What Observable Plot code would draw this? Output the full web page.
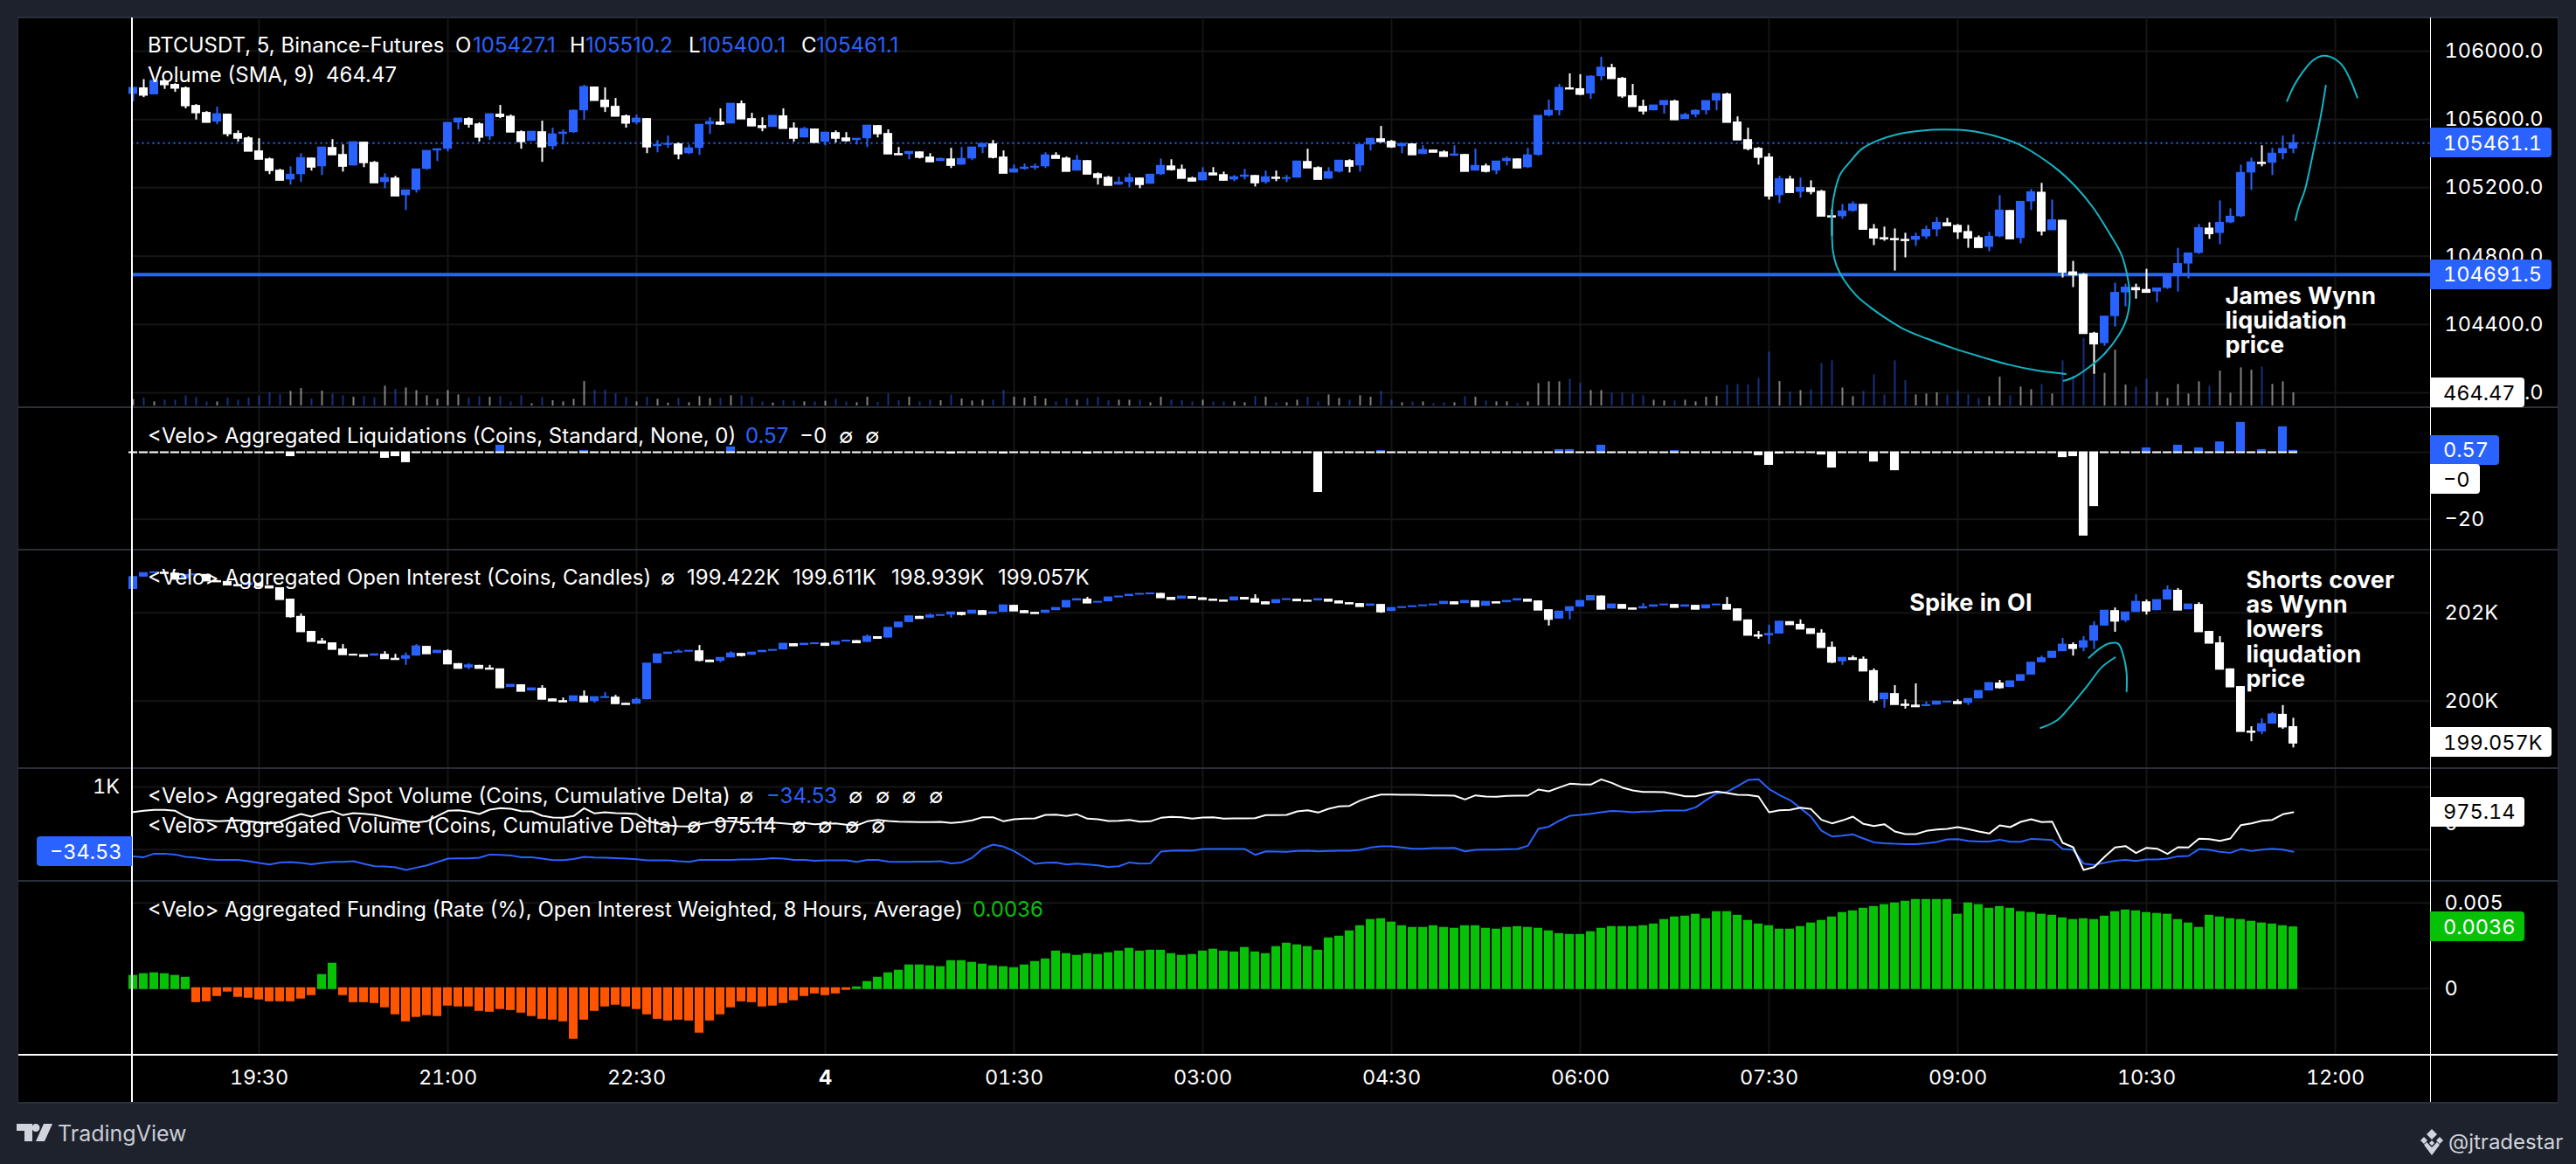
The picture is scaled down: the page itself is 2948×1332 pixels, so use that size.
<!DOCTYPE html>
<html><head><meta charset="utf-8"><title>BTCUSDT</title>
<script src="https://cdn.jsdelivr.net/npm/d3@7"></script>
<script src="https://cdn.jsdelivr.net/npm/@observablehq/plot@0.6"></script>
<style>
html,body{margin:0;padding:0;background:#1e222d}
#stage{position:relative;width:2948px;height:1332px;overflow:hidden;background:#1e222d;font-family:Inter,sans-serif;color:#fff}
#stage svg{position:absolute;left:0;font-feature-settings:"tnum" 1}
.abs{position:absolute;white-space:pre;line-height:1}
.tag{position:absolute;display:flex;align-items:center;padding-left:15px;box-sizing:border-box;height:34px;font-size:23.5px;font-feature-settings:"tnum" 1}
</style></head><body><div id="stage"></div>
<script>
// ---------- candle time axis ----------
const timeTicks=[12,30,48,84,102,120,138,156,174,192,210];
const timeLabels=["19:30","21:00","22:30","01:30","03:00","04:30","06:00","07:30","09:00","10:30","12:00"];
const dayTick=[66], dayLabel=["4"];
const gridTicks=[12,30,48,66,84,102,120,138,156,174,192,210];

// ---------- price candles (BTCUSDT, 5m) ----------
const firstOpen=105747;
const closes=[105785,105744,105826,105805,105785,105682,105641,105585,105631,105518,105492,105416,105369,105303,105246,105277,105374,105323,105436,105395,105328,105467,105349,105231,105257,105154,105185,105308,105416,105426,105580,105605,105574,105498,105631,105619,105528,105472,105528,105441,105513,105523,105651,105790,105713,105677,105621,105580,105605,105441,105451,105457,105400,105431,105569,105585,105574,105692,105605,105564,105554,105621,105549,105492,105544,105467,105523,105492,105477,105487,105564,105518,105400,105395,105410,105380,105354,105369,105333,105369,105436,105457,105380,105287,105308,105318,105323,105390,105374,105298,105359,105282,105262,105216,105231,105257,105221,105277,105328,105308,105257,105241,105287,105277,105246,105262,105272,105231,105262,105257,105257,105354,105318,105251,105292,105359,105328,105451,105487,105472,105441,105457,105395,105421,105410,105385,105395,105298,105328,105298,105354,105369,105318,105390,105621,105651,105785,105780,105749,105851,105903,105841,105739,105677,105651,105682,105708,105600,105626,105651,105708,105749,105585,105482,105431,105380,105154,105251,105174,105200,105180,105036,105031,105062,105103,104959,104908,104903,104898,104893,104913,104954,104995,104980,104944,104908,104852,104913,105067,104903,105118,105174,104949,105010,104708,104693,104349,104288,104446,104585,104616,104605,104590,104611,104682,104754,104816,104964,104933,104995,105031,105287,105349,105344,105400,105427.1,105461.1];
const highs=[105785,105833,105826,105826,105809,105790,105687,105646,105672,105631,105533,105498,105487,105374,105308,105323,105400,105374,105436,105482,105451,105467,105467,105354,105282,105267,105185,105308,105416,105426,105580,105605,105610,105580,105631,105682,105626,105533,105528,105590,105549,105539,105656,105800,105790,105785,105723,105626,105626,105605,105477,105503,105462,105451,105569,105610,105662,105692,105708,105636,105610,105621,105662,105580,105554,105544,105523,105533,105523,105487,105564,105564,105539,105436,105410,105410,105400,105374,105431,105436,105436,105457,105477,105416,105333,105339,105339,105405,105405,105380,105390,105359,105287,105267,105262,105282,105257,105277,105369,105364,105333,105262,105318,105318,105292,105272,105308,105272,105298,105298,105272,105354,105426,105323,105318,105359,105364,105451,105487,105559,105477,105457,105457,105446,105421,105416,105446,105395,105426,105339,105354,105380,105369,105431,105621,105713,105805,105867,105862,105856,105964,105923,105846,105805,105713,105682,105708,105713,105636,105656,105708,105749,105754,105615,105549,105436,105400,105267,105267,105257,105241,105185,105072,105103,105118,105103,104985,104970,104959,104934,104934,104975,105026,105021,104985,104980,104918,104939,105154,105067,105118,105190,105226,105128,105010,104769,104698,104354,104446,104641,104636,104636,104723,104611,104682,104846,104816,104985,104995,105123,105077,105333,105374,105446,105431,105503,105510.2];
const lows=[105703,105728,105744,105776,105759,105662,105597,105585,105569,105498,105467,105416,105369,105277,105246,105216,105231,105298,105272,105395,105292,105328,105318,105231,105195,105154,105067,105169,105303,105354,105410,105539,105549,105467,105477,105605,105528,105426,105472,105349,105421,105451,105518,105595,105708,105641,105615,105549,105569,105400,105405,105431,105364,105395,105390,105513,105564,105574,105605,105559,105528,105554,105549,105467,105492,105467,105446,105462,105467,105451,105436,105492,105400,105395,105364,105369,105349,105354,105313,105333,105359,105400,105369,105287,105287,105303,105303,105313,105374,105298,105298,105277,105216,105210,105216,105200,105195,105221,105272,105298,105257,105236,105241,105277,105241,105236,105246,105205,105221,105236,105231,105257,105318,105251,105251,105287,105287,105292,105416,105462,105431,105400,105395,105395,105405,105385,105385,105298,105298,105287,105277,105328,105318,105313,105385,105615,105621,105774,105739,105718,105826,105841,105723,105677,105626,105651,105631,105600,105600,105610,105626,105651,105580,105477,105416,105333,105128,105108,105174,105139,105159,105036,104918,105016,105057,104959,104862,104887,104713,104790,104857,104898,104913,104980,104898,104846,104852,104826,104908,104903,104872,105067,104918,104949,104672,104616,104349,104108,104272,104385,104503,104549,104590,104528,104605,104590,104667,104810,104898,104867,104990,105026,105185,105323,105272,105364,105400.1];
const volumes=[227,279,144,206,206,361,299,144,144,279,206,279,351,464,402,516,619,248,526,423,361,310,341,289,702,588,640,547,361,237,547,392,279,330,310,330,144,361,83,299,186,144,237,867,557,557,433,310,144,310,237,103,268,114,330,268,268,361,361,310,144,103,186,175,144,144,165,237,144,114,310,124,433,186,310,144,206,186,392,248,175,206,206,557,310,279,341,248,144,268,206,268,310,186,206,206,206,114,310,206,186,144,206,144,144,144,114,341,310,114,114,206,310,144,392,268,206,361,310,516,206,114,144,144,83,114,114,330,310,175,144,144,83,144,795,857,857,949,805,547,547,454,454,423,361,206,175,175,206,144,310,341,733,764,743,980,1909,867,495,547,578,1507,1600,640,330,516,1104,392,1600,898,392,423,464,392,516,392,268,330,1022,361,671,578,764,423,1600,1053,2394,1104,1156,1981,743,671,949,485,268,764,423,857,702,1238,454,1352,1269,1383,764,857,464.47];
const priceTicks=[106000,105600,105200,104800,104400,104000];
const lastPrice=105461.1, liquidationPrice=104691.5;

// ---------- aggregated liquidations (non-zero bars only) ----------
const liqIndex=[13,15,24,25,26,35,43,57,78,83,91,113,119,136,137,140,147,155,156,157,161,162,166,168,184,185,186,187,192,195,197,199,201,203,205,206];
const liqValue=[-0.5,-1.3,-1.8,-1.3,-3.1,2.1,0.5,1.6,-0.5,-0.5,-0.5,-12,0.5,0.8,0.8,2.1,0.5,-1,-3.9,-0.5,-0.8,-4.7,-2.9,-5.5,-1.6,-1.3,-25,-16.2,1.3,2.1,1.3,3.1,8.9,0.8,7.6,0.57];

// ---------- aggregated open interest candles (thousand coins) ----------
const oiFirstOpen=202.53;
const oiCloses=[202.81,202.90,202.92,202.90,202.77,202.86,202.87,202.73,202.71,202.64,202.62,202.67,202.61,202.57,202.31,201.92,201.58,201.36,201.32,201.18,201.06,201.05,201.02,201.06,200.97,200.95,201.02,201.24,201.08,201.14,200.85,200.75,200.81,200.75,200.73,200.31,200.37,200.23,200.29,200.05,200.01,199.99,200.11,199.99,200.09,200.09,199.95,199.93,200.03,200.85,201.06,201.10,201.12,201.14,200.93,200.90,200.98,201.08,201.04,201.10,201.14,201.16,201.30,201.26,201.30,201.31,201.27,201.34,201.37,201.33,201.46,201.43,201.66,201.78,201.92,201.88,201.94,201.95,202.01,201.97,202.05,201.97,202.01,202.17,202.05,202.01,201.99,202.05,202.11,202.27,202.31,202.23,202.25,202.35,202.37,202.41,202.43,202.44,202.35,202.31,202.37,202.34,202.31,202.29,202.27,202.35,202.32,202.25,202.21,202.29,202.31,202.28,202.27,202.31,202.27,202.23,202.21,202.15,202.19,202.03,202.11,202.13,202.15,202.17,202.19,202.25,202.21,202.27,202.15,202.25,202.23,202.27,202.31,202.27,202.07,201.86,202.03,202.13,202.27,202.38,202.09,202.19,202.11,202.09,202.13,202.17,202.19,202.13,202.17,202.09,202.17,202.19,202.09,201.84,201.50,201.48,201.52,201.80,201.74,201.64,201.54,201.22,200.89,200.98,200.95,200.69,200.03,200.17,199.93,199.91,199.88,199.91,199.99,199.99,199.95,200.05,200.23,200.41,200.31,200.45,200.59,200.87,200.97,201.12,201.28,201.20,201.36,201.70,202.05,201.82,202.01,202.25,202.05,202.29,202.51,202.07,202.19,201.58,201.32,200.73,200.33,199.32,199.30,199.48,199.70,199.422,199.057];
const oiUpperWicks=[[16,201.97],[18,201.42],[20,201.28],[24,201.12],[25,201.06],[26,201.09],[27,201.28],[30,201.16],[32,200.85],[34,200.81],[39,200.35],[41,200.07],[43,200.23],[45,200.19],[46,200.13],[48,200.07],[52,201.16],[54,201.26],[57,201.12],[70,201.50],[76,201.97],[91,202.35],[107,202.41],[144,202.21],[152,202.35],[155,201.58],[156,201.72],[159,201.84],[161,201.62],[162,201.34],[164,201.02],[165,201.00],[166,200.73],[168,200.35],[169,200.03],[170,200.39],[171,199.98],[174,200.03],[178,200.47],[182,201.02],[184,201.42],[185,201.32],[186,201.46],[187,201.80],[189,202.11],[191,202.41],[192,202.29],[194,202.61],[195,202.55],[197,202.23],[199,201.46],[202,199.42],[203,199.60],[204,199.74],[205,199.90],[206,199.611]];
const oiLowerWicks=[[15,201.88],[26,200.81],[32,200.71],[35,200.29],[44,199.95],[46,199.93],[54,200.89],[56,200.87],[58,201.00],[66,201.24],[78,201.88],[79,201.93],[87,201.99],[119,201.99],[135,201.70],[137,201.84],[153,201.82],[155,201.40],[156,201.28],[162,200.85],[163,200.81],[166,199.95],[167,199.84],[169,199.82],[175,199.90],[178,200.27],[185,201.02],[186,201.12],[187,201.17],[189,201.56],[190,201.78],[192,201.95],[202,199.08],[203,199.24],[205,199.36],[206,198.939]];

// ---------- cumulative deltas ----------
const spotCvd=[-107,-121,-65,-65,-79,-116,-130,-153,-163,-163,-163,-186,-214,-237,-205,-200,-214,-233,-214,-195,-195,-186,-228,-265,-270,-284,-326,-288,-251,-200,-144,-140,-140,-130,-79,-84,-93,-121,-121,-144,-167,-167,-149,-116,-126,-130,-135,-144,-153,-172,-172,-172,-186,-195,-163,-163,-163,-163,-158,-158,-149,-135,-144,-163,-163,-177,-172,-172,-172,-195,-163,-163,-191,-195,-195,-191,-191,-186,-219,-205,-130,14,79,47,-23,-126,-228,-209,-205,-237,-223,-237,-251,-279,-265,-205,-223,-219,-33,-19,-14,-19,9,9,9,9,9,-84,-28,-33,-37,-23,-19,-28,-23,-19,-19,-5,33,51,51,33,14,14,23,23,28,-28,-5,0,0,5,9,60,330,367,460,539,553,572,595,618,609,595,605,609,623,623,623,674,790,897,921,1014,1111,1121,967,870,790,660,525,302,209,223,242,177,116,102,93,88,88,102,121,163,167,140,130,130,158,126,126,172,163,153,9,-5,-223,-246,-209,-177,-163,-181,-158,-158,-144,-107,-102,9,-5,-37,-51,9,-23,0,14,0,-34.53];
const futuresCvd=[1000,1103,1180,1180,1103,590,333,257,180,231,257,180,77,-26,128,513,821,590,898,1077,718,898,846,744,564,385,205,77,180,641,1103,1154,1026,821,1206,1334,1283,1077,1052,667,513,487,641,1334,872,975,898,872,821,205,0,-180,-257,-282,-77,77,180,180,77,51,51,77,0,-77,26,-77,-26,0,-128,-180,180,308,205,154,128,103,103,128,26,103,257,539,539,180,359,410,436,744,770,641,795,410,359,205,231,308,154,180,487,564,539,410,513,539,410,436,436,462,718,718,744,1052,1154,949,1283,1488,1539,2001,2309,2539,2539,2514,2514,2488,2462,2462,2437,2103,2462,2360,2334,2411,2437,2437,2975,2822,3155,3488,3437,3411,3873,3565,3155,2898,2770,2770,2745,2565,2385,2385,2616,2796,2668,2514,2488,2360,975,1154,1180,1385,1257,308,0,257,590,-51,-231,-77,-718,-949,-949,-667,-539,-487,-333,-513,-718,-898,-180,-333,128,359,103,154,-1719,-2103,-4104,-3848,-2950,-2129,-2001,-2616,-2155,-2232,-2693,-2103,-2129,-1359,-1385,-1539,-1334,-154,0,231,308,795,975.14];

// ---------- aggregated funding ----------
const funding=[.00077,.00087,.00092,.00087,.00077,.00066,-.00082,-.00077,-.00046,-.0002,-.00051,-.00056,-.00066,-.00077,-.00077,-.00077,-.00061,-.00041,.00082,.00148,-.00041,-.00082,-.00082,-.00087,-.00112,-.00153,-.00194,-.00168,-.00158,-.00163,-.00102,-.00107,-.00107,-.00133,-.00138,-.00122,-.00128,-.00143,-.00163,-.00179,-.00184,-.00194,-.00296,-.00184,-.00133,-.00107,-.00097,-.00107,-.00122,-.00153,-.00179,-.00189,-.00184,-.00189,-.0026,-.00189,-.00153,-.00112,-.00077,-.00082,-.00107,-.00102,-.00087,-.00071,-.00046,-.00031,-.00041,-.00031,-.0001,.0001,.00041,.00066,.00092,.00107,.00138,.00138,.00133,.00128,.00163,.00163,.00153,.00143,.00133,.00128,.00122,.00138,.00158,.00173,.00219,.00204,.00194,.00204,.00199,.00209,.00219,.00235,.00219,.00224,.00224,.00204,.00194,.00199,.00219,.0023,.00219,.00214,.0024,.00214,.00204,.00245,.00265,.00255,.00245,.00224,.00296,.00306,.00337,.00367,.00403,.00408,.00388,.00367,.00357,.00357,.00367,.00357,.00352,.00367,.00367,.00352,.00347,.00357,.00362,.00357,.00352,.00337,.00321,.00316,.00316,.00332,.00352,.00362,.00362,.00362,.00367,.00377,.00403,.00418,.00423,.00434,.00408,.00449,.00449,.00428,.00398,.00377,.00367,.00347,.00347,.00362,.00383,.00398,.00418,.00444,.00454,.00469,.00479,.0049,.005,.0051,.0052,.0052,.0052,.0052,.00434,.005,.0049,.00469,.00479,.00469,.00449,.00444,.00434,.00428,.00413,.00403,.00408,.00403,.00423,.00449,.00459,.00454,.00444,.00439,.00434,.00403,.00383,.00357,.00428,.00418,.00408,.00403,.00393,.00383,.00377,.00367,.0036];

// ---------- hand-drawn annotations (candle number, value) ----------
const ovalI=[184.3,181.6,178.9,176.3,173.6,171,168.8,167.2,165.6,164.3,163.2,162.4,162.1,162,162,162.3,162.8,163.8,164.8,166.4,168.3,170.4,172.6,175.2,177.3,179.5,181.6,183.7,185.3,186.9,188.5,189.6,190.2,190.4,190.1,189.3,188,186.4,185.1,184.1];
const ovalP=[104110,104130,104164,104209,104260,104318,104374,104434,104503,104571,104656,104750,104827,104930,105067,105186,105280,105357,105425,105477,105514,105533,105540,105533,105507,105463,105391,105297,105203,105084,104930,104810,104674,104554,104434,104332,104229,104144,104092,104070];
const arcI=[205.4,206.1,206.9,207.9,208.7,209.5,210.6,211.4,212.1];
const arcP=[105707,105801,105878,105947,105972,105967,105921,105836,105728];
const stemI=[209.1,208.6,207.9,207.1,206.5,206.2];
const stemP=[105798,105614,105408,105186,105084,105010];
const oiRiseI=[181.9,183.5,184.8,186.4,187.7,189];
const oiRiseV=[199.39,199.57,199.9,200.36,200.76,200.99];
const oiHookI=[186.5,187.6,188.5,189.3,189.8,190.1,190.1];
const oiHookV=[200.98,201.2,201.31,201.3,201.02,200.63,200.22];

// ---------- styling ----------
const BLUE="#2962ff", GREEN="#07c107", ORANGE="#ff5500", TEAL="#14b4c4", GRID="#151515", SEP="#2a2e39";
const FONT="Inter, sans-serif", FS=24, AXFS=23.5, BW=0.42;
const stage=document.getElementById("stage");
const zip=(a,b)=>a.map((v,i)=>({i:v,v:b[i]}));

const xBase={domain:[-0.125,219.083],axis:null};
function pane(top,height,yDomain,marks,extra={}){
  const p=Plot.plot({width:2948,height,marginLeft:150.5,marginRight:167,marginTop:0,marginBottom:0,
    x:xBase,y:{domain:yDomain,axis:null},
    style:{background:"transparent",color:"#fff",fontFamily:FONT,fontSize:AXFS+"px",overflow:"visible"},marks,...extra});
  p.style.top=top+"px";
  stage.appendChild(p);
  return p;
}
const grids=(yt)=>[
  Plot.gridX(gridTicks,{stroke:GRID,strokeOpacity:1,strokeWidth:2}),
  ...(yt?[Plot.gridY(yt,{stroke:GRID,strokeOpacity:1,strokeWidth:2})]:[])
];
const rightAxis=(ticks,tickFormat)=>Plot.axisY(ticks,{anchor:"right",tickSize:0,tickPadding:16,tickFormat,textAnchor:"start",label:null});
function candleMarks(rows){
  const col=d=>d.c>=d.o?BLUE:"#fff";
  return [
    Plot.ruleX(rows,{x:"i",y1:"l",y2:"h",stroke:col,strokeWidth:2}),
    Plot.rect(rows,{x1:d=>d.i-BW,x2:d=>d.i+BW,y1:"o",y2:"c",fill:col}),
    Plot.ruleY(rows,{x1:d=>d.i-BW,x2:d=>d.i+BW,y:"c",stroke:col,strokeWidth:2})
  ];
}
const teal=(I,V)=>Plot.line(zip(I,V),{x:"i",y:"v",stroke:TEAL,strokeWidth:2,curve:"catmull-rom"});

// rows
const priceRows=closes.map((c,i)=>({i,o:i?closes[i-1]:firstOpen,c,h:highs[i],l:lows[i],vol:volumes[i]}));
const oiRows=oiCloses.map((c,i)=>{
  const o=i?oiCloses[i-1]:oiFirstOpen;
  const uw=oiUpperWicks.find(w=>w[0]===i), lw=oiLowerWicks.find(w=>w[0]===i);
  return {i,o,c,h:uw?uw[1]:Math.max(o,c),l:lw?lw[1]:Math.min(o,c)};
});
const liqRows=priceRows.map(d=>{const k=liqIndex.indexOf(d.i);return {i:d.i,v:k<0?0:liqValue[k]};});
const fundRows=funding.map((v,i)=>({i,v}));

// ---------- pane 1: price + volume ----------
const P1={top:20,h:445};
pane(P1.top,P1.h,[103918,106194],grids(priceTicks));
const volPlot=pane(P1.top,P1.h,[-31,13764],[
  Plot.ruleX(priceRows,{x:"i",y1:0,y2:"vol",strokeWidth:2,stroke:d=>d.c>=d.o?"#fff":BLUE,strokeOpacity:.5})
]);
const pricePlot=pane(P1.top,P1.h,[103918,106194],[
  rightAxis(priceTicks,d=>d.toFixed(1)),
  Plot.ruleY([lastPrice],{stroke:BLUE,strokeWidth:2,strokeDasharray:"2 4"}),
  Plot.ruleY([liquidationPrice],{stroke:BLUE,strokeWidth:4}),
  ...candleMarks(priceRows),
  teal(ovalI,ovalP),teal(arcI,arcP),teal(stemI,stemP),
  Plot.text(["James Wynn\nliquidation\nprice"],{x:199.5,y:104420,textAnchor:"start",lineAnchor:"middle",lineHeight:1.04,fontSize:27,fontWeight:700,fill:"#fff"})
]);

// ---------- pane 2: liquidations ----------
const P2={top:465,h:163};
const liqPlot=pane(P2.top,P2.h,[-28.94,13.56],[
  ...grids([0,-20]),
  rightAxis([-20],d=>"\u2212"+Math.abs(d)),
  Plot.rect(liqRows.filter(d=>d.v),{x1:d=>d.i-BW,x2:d=>d.i+BW,y1:0,y2:"v",fill:d=>d.v>0?BLUE:"#fff"}),
  Plot.ruleY(liqRows,{x1:d=>d.i-BW,x2:d=>d.i+BW,y:()=>0,stroke:"#fff",strokeWidth:2})
]);

// ---------- pane 3: open interest ----------
const P3={top:628,h:250};
const oiPlot=pane(P3.top,P3.h,[198.49,203.44],[
  ...grids([200,202]),
  rightAxis([200,202],d=>d+"K"),
  ...candleMarks(oiRows),
  teal(oiRiseI,oiRiseV),teal(oiHookI,oiHookV),
  Plot.text(["Spike in OI"],{x:169.4,y:202.21,textAnchor:"start",lineAnchor:"middle",fontSize:27,fontWeight:700,fill:"#fff"}),
  Plot.text(["Shorts cover\nas Wynn\nlowers\nliqudation\nprice"],{x:201.5,y:201.62,textAnchor:"start",lineAnchor:"middle",lineHeight:1.05,fontSize:27,fontWeight:700,fill:"#fff"})
]);

// ---------- pane 4: cumulative deltas (two price scales) ----------
const P4={top:878,h:130};
const spotPlot=pane(P4.top,P4.h,[-506,1307],[
  ...grids([0,1000]),
  Plot.axisY([1000],{anchor:"left",tickSize:0,tickPadding:14,tickFormat:()=>"1K",label:null}),
  Plot.line(priceRows.map(d=>({i:d.i,v:spotCvd[d.i]})),{x:"i",y:"v",stroke:BLUE,strokeWidth:2})
]);
const futPlot=pane(P4.top,P4.h,[-5104,4899],[
  rightAxis([0],d=>String(d)),
  Plot.line(priceRows.map(d=>({i:d.i,v:futuresCvd[d.i]})),{x:"i",y:"v",stroke:"#fff",strokeWidth:2})
]);

// ---------- pane 5: funding ----------
const P5={top:1008,h:199};
const fundPlot=pane(P5.top,P5.h,[-0.00389,0.00626],[
  ...grids([0,0.005]),
  rightAxis([0,0.005],d=>String(d)),
  Plot.rect(fundRows,{x1:d=>d.i-BW,x2:d=>d.i+BW,y1:d=>d.v>=0?-0.00005:0.00005,y2:"v",fill:d=>d.v>=0?GREEN:ORANGE})
]);

// ---------- time axis ----------
const axisPlot=pane(1207,55,[0,1],[
  Plot.axisX(timeTicks,{anchor:"bottom",tickSize:0,tickPadding:17,label:null,tickFormat:d=>timeLabels[timeTicks.indexOf(d)]}),
  Plot.axisX(dayTick,{anchor:"bottom",tickSize:0,tickPadding:17,label:null,fontWeight:700,tickFormat:d=>dayLabel[dayTick.indexOf(d)]})
],{marginBottom:55});

// ---------- chrome ----------
function box(l,t,w,h,c){const d=document.createElement("div");d.style.cssText=`position:absolute;left:${l}px;top:${t}px;width:${w}px;height:${h}px;background:${c}`;stage.insertBefore(d,stage.firstChild);return d;}
function line(l,t,w,h,c){const d=document.createElement("div");d.style.cssText=`position:absolute;left:${l}px;top:${t}px;width:${w}px;height:${h}px;background:${c}`;stage.appendChild(d);}
box(21,21,2906,1240,"#000");
box(20,19,2908,1244,SEP);
[464.5,627.5,877.5,1007].forEach(y=>line(21,y,2906,2,SEP));
line(21,1206,2906,2,"#fff");
line(150,20,1.5,1241,"#fff");
line(2780.5,20,1.5,1241,"#fff");

// ---------- legends ----------
function legend(y,items){
  for(const [t,x,c] of items){
    const s=document.createElement("div");s.className="abs";s.textContent=t;
    s.style.cssText+=`left:${x}px;top:${y-FS/2}px;font-size:${FS}px;color:${c||"#fff"}`;
    stage.appendChild(s);
  }
}
const E="\u2205";
legend(52,[["BTCUSDT, 5, Binance-Futures",169],["O",521],["105427.1",541,BLUE],["H",652],["105510.2",670,BLUE],["L",788],["105400.1",800,BLUE],["C",917],["105461.1",934,BLUE]]);
legend(86,[["Volume (SMA, 9)",169],["464.47",373]]);
legend(499,[["<Velo> Aggregated Liquidations (Coins, Standard, None, 0)",169],["0.57",853,BLUE],["\u22120",915],[E,960],[E,990]]);
legend(661,[["<Velo> Aggregated Open Interest (Coins, Candles)",169],[E,756],["199.422K",786],["199.611K",907],["198.939K",1020],["199.057K",1142]]);
legend(911,[["<Velo> Aggregated Spot Volume (Coins, Cumulative Delta)",169],[E,846],["\u221234.53",877,BLUE],[E,971],[E,1002],[E,1032],[E,1063]]);
legend(945,[["<Velo> Aggregated Volume (Coins, Cumulative Delta)",169],[E,786],["975.14",817],[E,906],[E,936],[E,967],[E,997]]);
legend(1041,[["<Velo> Aggregated Funding (Rate (%), Open Interest Weighted, 8 Hours, Average)",169],["0.0036",1113,GREEN]]);

// ---------- value tags, placed through each pane's y scale ----------
function tag(text,yPage,width,bg,fg,left=2781,side="right"){
  const d=document.createElement("div");d.className="tag";d.textContent=text;
  const rad=side==="right"?"0 4px 4px 0":"4px 0 0 4px";
  d.style.cssText+=`left:${left}px;top:${yPage-17}px;width:${width}px;background:${bg};color:${fg};border-radius:${rad}`;
  stage.appendChild(d);
}
const yOf=(plot,top,v)=>top+plot.scale("y").apply(v);
tag("105461.1",yOf(pricePlot,P1.top,lastPrice),139,BLUE,"#fff");
tag("104691.5",yOf(pricePlot,P1.top,liquidationPrice),139,BLUE,"#fff");
tag("464.47",yOf(volPlot,P1.top,464.47),108,"#fff","#000");
tag("0.57",yOf(liqPlot,P2.top,0.57),79,BLUE,"#fff");
tag("\u22120",yOf(liqPlot,P2.top,0.57)+33.5,57,"#fff","#000");
tag("199.057K",yOf(oiPlot,P3.top,199.057),139,"#fff","#000");
tag("975.14",yOf(futPlot,P4.top,975.14),108,"#fff","#000");
tag("0.0036",yOf(fundPlot,P5.top,0.0036),108,GREEN,"#fff");
tag("\u221234.53",yOf(spotPlot,P4.top,-34.53),108.5,BLUE,"#fff",42,"left");

// ---------- footer ----------
const foot=document.createElement("div");
foot.innerHTML=`<svg style="left:19px;top:1285px" width="42" height="24" viewBox="0 0 42 24"><path d="M0 1H18V21H9V9H0Z M22 1A4.5 4.5 0 1 1 22 10A4.5 4.5 0 1 1 22 1Z M31 1H41L32 21H22Z" fill="#d1d4dc"/></svg>
<div class="abs" style="left:66px;top:1285px;font-size:25px;color:#c9ccd4">TradingView</div>
<svg style="left:2769px;top:1292px" width="28" height="30" viewBox="0 0 28 30"><path d="M14 0L20 6L14 12L8 6Z M5 9L9 13L5 17L1 13Z M23 9L27 13L23 17L19 13Z M14 13L17 16L14 19L11 16Z M14 21L20 15L23 18L14 30L5 18L8 15Z" fill="#d1d4dc"/></svg>
<div class="abs" style="left:2802px;top:1295px;font-size:24px;color:#d1d4dc">@jtradestar</div>`;
stage.appendChild(foot);
</script></body></html>
